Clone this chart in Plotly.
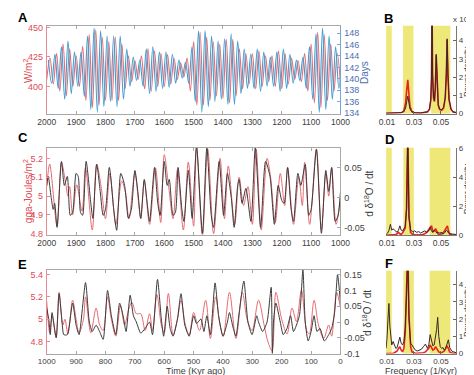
import numpy as np
import plotly.graph_objects as go

# ---------------- Panel A : insolation (W/m2) and day length (Days) -------------
time_a_red = np.linspace(2000, 1000, 91)
insol_a = [406, 424, 402, 428, 396, 436, 392, 432, 400, 426,
           400, 434, 388, 444, 382, 448, 384, 442, 388, 438,
           388, 442, 388, 436, 398, 426, 404, 422, 406, 426,
           398, 432, 396, 430, 400, 428, 400, 427, 402, 424,
           406, 420, 408, 424, 396, 438, 384, 446, 384, 442,
           388, 438, 392, 436, 390, 440, 386, 440, 392, 432,
           398, 428, 402, 428, 398, 430, 400, 426, 404, 426,
           400, 430, 398, 428, 402, 424, 406, 422, 404, 428,
           396, 436, 386, 446, 382, 444, 388, 436, 396, 428,
           402]
time_a_blue = np.linspace(1994.4, 994.4, 91)
days_a = [143.3, 139.2, 144.3, 138.3, 145.6, 136.4, 146.6, 137.4, 144.7, 138.7,
          144.7, 136.9, 147.5, 134.6, 148.9, 134.1, 148.4, 135.1, 147.5, 136.0,
          147.5, 135.1, 147.5, 136.4, 145.2, 138.7, 143.8, 139.7, 143.3, 138.7,
          145.2, 137.4, 145.6, 137.8, 144.7, 138.3, 144.7, 138.5, 144.3, 139.2,
          143.3, 140.1, 142.9, 139.2, 145.6, 136.0, 148.4, 134.1, 148.4, 135.1,
          147.5, 136.0, 146.6, 136.4, 147.0, 135.5, 147.9, 135.5, 146.6, 137.4,
          145.2, 138.3, 144.3, 138.3, 145.2, 137.8, 144.7, 138.7, 143.8, 138.7,
          144.7, 137.8, 145.2, 138.3, 144.3, 139.2, 143.3, 139.7, 143.8, 138.3,
          145.6, 136.4, 147.9, 134.1, 148.9, 134.6, 147.5, 136.4, 145.6, 138.3,
          144.3]

# ---------------- Panel C : 2000-1000 kyr -------------
c_red_t = [2000, 1990, 1965, 1950, 1935, 1928, 1922, 1912, 1898, 1880,
           1868, 1845, 1830, 1815, 1800, 1785, 1765, 1745, 1732, 1720,
           1700, 1680, 1668, 1650, 1630, 1612, 1600, 1585, 1570, 1555,
           1535, 1518, 1500, 1490, 1470, 1452, 1432, 1410, 1395, 1382,
           1360, 1345, 1330, 1315, 1300, 1287, 1270, 1250, 1238, 1222,
           1205, 1190, 1180, 1160, 1142, 1130, 1122, 1105, 1082, 1065,
           1050, 1040, 1030, 1015, 1000]
c_red_v = [5.05, 5.17, 4.84, 5.18, 5.06, 5.0, 5.05, 4.9, 5.06, 4.92,
           5.15, 4.82, 5.17, 5.05, 4.88, 5.12, 4.85, 5.08, 5.02, 4.88,
           5.12, 4.88, 5.08, 4.85, 5.15, 4.86, 5.22, 5.05, 4.88, 5.14,
           4.82, 5.18, 4.84, 5.26, 4.79, 5.25, 4.8, 5.2, 4.88, 5.16,
           4.85, 5.1, 4.95, 5.05, 4.85, 5.25, 4.82, 5.2, 5.1, 4.86,
           5.12, 4.95, 5.15, 4.85, 5.1, 4.95, 5.18, 4.85, 5.25, 4.82,
           5.12, 5.0, 5.15, 4.85, 5.0]
c_blk_t = [2000, 1995, 1985, 1978, 1973, 1965, 1950, 1940, 1930, 1920,
           1912, 1900, 1893, 1885, 1878, 1866, 1850, 1843, 1830, 1818,
           1808, 1800, 1787, 1772, 1762, 1748, 1735, 1722, 1712, 1700,
           1690, 1680, 1668, 1658, 1650, 1633, 1622, 1614, 1600, 1590,
           1583, 1570, 1562, 1553, 1540, 1533, 1518, 1505, 1490, 1470,
           1455, 1440, 1432, 1413, 1398, 1385, 1372, 1362, 1350, 1345,
           1335, 1322, 1305, 1290, 1272, 1255, 1240, 1225, 1212, 1200,
           1192, 1180, 1168, 1160, 1145, 1135, 1120, 1108, 1100, 1082,
           1065, 1050, 1040, 1030, 1018, 1008, 1000]
c_blk_v = [0.02, 0.035, 0.0, -0.02, -0.01, -0.05, 0.06, 0.02, 0.035, -0.03,
           -0.025, 0.04, 0.035, -0.025, -0.03, 0.06, -0.01, -0.035, 0.055, 0.01,
           -0.03, -0.02, 0.05, -0.02, -0.055, 0.04, 0.02, -0.035, -0.02, 0.045,
           0.01, -0.035, 0.03, -0.01, -0.04, 0.05, -0.01, -0.03, 0.06, 0.02,
           0.03, -0.03, -0.025, 0.05, -0.02, -0.04, 0.045, -0.035, 0.085, -0.06,
           0.083, -0.03, -0.05, 0.06, -0.03, 0.04, 0.0, -0.05, 0.02, 0.03,
           -0.01, 0.015, -0.04, 0.083, -0.05, 0.06, 0.035, -0.045, 0.02, -0.005,
           -0.01, 0.05, -0.02, -0.04, 0.04, 0.02, 0.055, -0.03, -0.02, 0.08,
           -0.06, 0.045, 0.01, 0.05, -0.04, -0.03, 0.01]

# ---------------- Panel E : 1000-0 kyr -------------
e_red_t = [1000, 990, 982, 968, 958, 945, 938, 928, 912, 900,
           890, 875, 868, 850, 832, 820, 808, 793, 780, 765,
           749, 735, 720, 710, 695, 680, 665, 650, 640, 625,
           610, 600, 586, 570, 555, 543, 528, 515, 500, 480,
           459, 443, 425, 410, 399, 378, 356, 334, 318, 301,
           279, 260, 247, 233, 220, 200, 182, 165, 150, 133,
           115, 106, 90, 75, 57, 40, 30, 13, 0]
e_red_v = [5.16, 4.88, 5.03, 4.84, 5.24, 4.95, 5.0, 4.87, 5.17, 5.0,
           4.88, 5.0, 5.2, 4.88, 5.1, 4.95, 4.9, 5.2, 5.0, 4.85,
           5.12, 4.95, 5.1, 5.15, 5.05, 5.05, 4.9, 5.05, 4.9, 5.22,
           4.95, 4.88, 5.23, 4.86, 5.0, 5.17, 4.95, 4.86, 5.06, 4.9,
           5.17, 4.83, 5.2, 4.95, 4.85, 5.24, 4.83, 5.24, 5.0, 4.9,
           5.17, 4.95, 4.8, 4.72, 5.24, 5.0, 4.87, 5.1, 4.98, 5.26,
           4.9, 4.87, 5.17, 4.95, 4.83, 4.95, 4.85, 5.24, 5.1]
e_blk_t = [1000, 992, 988, 982, 968, 958, 948, 942, 930, 912,
           900, 890, 868, 855, 845, 832, 820, 808, 793, 780,
           765, 752, 740, 730, 716, 705, 695, 680, 665, 650,
           640, 623, 610, 602, 590, 580, 570, 555, 543, 530,
           515, 500, 490, 475, 465, 455, 443, 427, 415, 400,
           385, 378, 365, 356, 345, 329, 315, 301, 285, 279,
           265, 250, 236, 232, 228, 220, 205, 195, 182, 170,
           160, 140, 128, 120, 110, 100, 90, 80, 70, 55,
           40, 30, 20, 10, 0]
e_blk_v = [0.045, 0.0, -0.04, 0.03, -0.05, 0.09, 0.0, -0.04, -0.04, 0.06,
           -0.01, -0.04, 0.125, 0.0, -0.03, -0.01, -0.03, -0.055, 0.1, 0.02,
           -0.04, 0.06, 0.02, -0.03, 0.085, 0.02, 0.0, -0.035, -0.02, 0.0,
           -0.04, 0.135, 0.01, -0.045, 0.05, -0.02, -0.045, 0.01, 0.09, -0.01,
           -0.045, 0.02, -0.005, 0.01, -0.03, 0.02, -0.04, 0.124, 0.02, -0.045,
           0.0, 0.03, -0.02, -0.045, 0.03, 0.13, 0.0, -0.04, 0.02, 0.0,
           -0.03, 0.0, 0.11, -0.1, 0.0, 0.06, 0.0, -0.04, -0.02, 0.02,
           -0.03, 0.02, 0.165, 0.0, -0.06, -0.03, 0.02, -0.03, -0.02, -0.06,
           -0.04, -0.02, 0.03, 0.15, 0.06]

# ---------------- Spectra -------------
freq_b = [0.0093, 0.012, 0.015, 0.018, 0.0205, 0.0225, 0.0238, 0.0246, 0.0254, 0.0262,
          0.027, 0.0285, 0.031, 0.035, 0.038, 0.040, 0.0415, 0.0425, 0.043, 0.0434,
          0.0438, 0.0445, 0.0452, 0.0458, 0.0465, 0.0472, 0.048, 0.049, 0.0505, 0.052,
          0.0532, 0.054, 0.0546, 0.0552, 0.056, 0.0575, 0.059, 0.0613]
pow_b_dark = [0.02, 0.02, 0.02, 0.03, 0.05, 0.1, 0.3, 0.65, 0.95, 0.6,
              0.25, 0.08, 0.04, 0.03, 0.05, 0.1, 0.25, 0.8, 2.0, 6.0,
              2.2, 0.9, 0.7, 1.4, 3.25, 1.4, 0.5, 0.25, 0.2, 0.35,
              0.9, 2.2, 4.1, 2.2, 0.8, 0.25, 0.1, 0.05]
pow_b_red = [0.0, 0.0, 0.01, 0.02, 0.04, 0.15, 0.6, 1.3, 1.85, 1.1,
             0.4, 0.1, 0.03, 0.02, 0.04, 0.08, 0.22, 0.75, 1.9, 6.0,
             2.1, 0.85, 0.65, 1.3, 3.2, 1.35, 0.45, 0.22, 0.18, 0.3,
             0.85, 2.1, 4.05, 2.1, 0.75, 0.22, 0.08, 0.04]

freq_d = [0.0093, 0.0105, 0.0115, 0.0125, 0.0135, 0.0145, 0.0155, 0.0165, 0.0175, 0.0185,
          0.0195, 0.0205, 0.0215, 0.0225, 0.0235, 0.0245, 0.0254, 0.0263, 0.0275, 0.029,
          0.0305, 0.032, 0.0335, 0.035, 0.0365, 0.038, 0.0395, 0.041, 0.042, 0.043,
          0.044, 0.045, 0.046, 0.047, 0.048, 0.049, 0.050, 0.051, 0.052, 0.053,
          0.054, 0.0548, 0.0556, 0.0565, 0.058, 0.0595, 0.0613]
pow_d_dark = [0.05, 0.15, 0.35, 0.75, 0.35, 0.45, 0.35, 0.25, 0.2, 0.35,
              0.65, 0.35, 0.3, 0.45, 0.6, 1.8, 7.0, 1.2, 0.35, 0.25,
              0.3, 0.2, 0.25, 0.15, 0.2, 0.3, 0.2, 0.3, 0.55, 0.3,
              0.2, 0.35, 0.25, 0.15, 0.2, 0.15, 0.2, 0.15, 0.1, 0.2,
              0.35, 0.3, 0.15, 0.1, 0.1, 0.05, 0.05]
pow_d_red = [0.0, 0.0, 0.0, 0.0, 0.0, 0.0, 0.02, 0.05, 0.1, 0.2,
             0.1, 0.05, 0.15, 0.3, 0.5, 1.9, 7.0, 1.3, 0.2, 0.05,
             0.02, 0.02, 0.02, 0.02, 0.05, 0.1, 0.2, 0.4, 0.5, 0.65,
             0.25, 0.3, 0.45, 0.2, 0.08, 0.05, 0.05, 0.1, 0.2, 0.4,
             0.55, 0.65, 0.3, 0.08, 0.02, 0.01, 0.0]

freq_f = [0.0093, 0.0100, 0.0107, 0.0114, 0.0121, 0.0128, 0.0135, 0.0145, 0.0155, 0.0165,
          0.0175, 0.0185, 0.0195, 0.0205, 0.0215, 0.0225, 0.0235, 0.0245, 0.0254, 0.0263,
          0.0275, 0.0285, 0.0295, 0.031, 0.0325, 0.034, 0.0355, 0.037, 0.0385, 0.040,
          0.041, 0.042, 0.043, 0.044, 0.045, 0.046, 0.0468, 0.0476, 0.0484, 0.0495,
          0.0505, 0.0515, 0.0525, 0.0535, 0.0545, 0.0555, 0.0565, 0.058, 0.0595, 0.0613]
pow_f_dark = [0.3, 0.9, 2.0, 2.9, 1.6, 0.7, 0.5, 0.7, 0.45, 0.3,
              0.35, 0.6, 0.95, 0.6, 0.5, 0.7, 1.5, 3.5, 6.0, 2.0,
              0.6, 0.5, 0.35, 0.2, 0.15, 0.2, 0.25, 0.4, 0.55, 0.3,
              0.5, 1.1, 0.8, 0.45, 0.5, 0.9, 1.4, 2.1, 1.0, 0.4,
              0.3, 0.35, 0.2, 0.3, 0.6, 0.8, 0.35, 0.15, 0.1, 0.05]
pow_f_red = [0.0, 0.0, 0.0, 0.0, 0.0, 0.0, 0.0, 0.02, 0.05, 0.1,
             0.15, 0.3, 0.4, 0.2, 0.1, 0.3, 1.2, 3.8, 6.0, 2.2,
             0.4, 0.1, 0.05, 0.02, 0.02, 0.02, 0.03, 0.05, 0.1, 0.2,
             0.3, 0.5, 0.35, 0.2, 0.25, 0.4, 0.3, 0.2, 0.1, 0.05,
             0.05, 0.1, 0.15, 0.3, 0.45, 0.3, 0.1, 0.03, 0.01, 0.0]

bands_b = [(0.0093, 0.0135), (0.0219, 0.0296), (0.0427, 0.0570)]
bands_df = [(0.0093, 0.0135), (0.0221, 0.0299), (0.0416, 0.0570)]

# tick labels
time_ticks_1 = [2000, 1900, 1800, 1700, 1600, 1500, 1400, 1300, 1200, 1100, 1000]
time_ticks_2 = [1000, 900, 800, 700, 600, 500, 400, 300, 200, 100, 0]
a_left_ticks = [400, 425, 450]
a_right_ticks = [134, 136, 138, 140, 142, 144, 146, 148]
c_left_ticks = [4.8, 4.9, 5.0, 5.1, 5.2]
c_left_text = ["4.8", "4.9", "5", "5.1", "5.2"]
c_right_ticks = [-0.05, 0, 0.05]
c_right_text = ["-0.05", "0", "0.05"]
e_left_ticks = [4.8, 5.0, 5.2, 5.4]
e_left_text = ["4.8", "5", "5.2", "5.4"]
e_right_ticks = [-0.1, -0.05, 0, 0.05, 0.1, 0.15]
e_right_text = ["-0.1", "-0.05", "0", "0.05", "0.1", "0.15"]
freq_ticks = [0.01, 0.03, 0.05]
freq_text = ["0.01", "0.03", "0.05"]

# ---------------- styling -------------
W, H = 474, 375
FONT = "Liberation Sans, Arial, Helvetica, sans-serif"
RED_TS = "#e46b73"
BLUE_TS = "#3b9dd2"
BLACK_TS = "#3a3a3a"
RED_LBL = "#de4a55"
BLUE_LBL = "#4c6fb3"
SPEC_RED = "#e8221c"
SPEC_DARK = "#3a2626"
YELLOW = "#eee878"
BOX = "#a8a8a8"
TXT = "#404040"


def px(x):
    return x / W


def py(y):
    return 1 - y / H


ts_dom = [px(31), px(337)]
sp_dom = [px(384.5), px(457.5)]
A_dom = [py(104), py(14.7)]
C_dom = [py(228), py(139)]
E_dom = [py(350), py(264)]
B_dom = [py(104), py(14)]
D_dom = [py(228.7), py(139)]
F_dom = [py(350), py(265)]

fig = go.Figure()

# panel A
fig.add_trace(go.Scatter(x=time_a_red, y=insol_a, xaxis="x", yaxis="y", mode="lines",
                         line=dict(color=RED_TS, width=1.1, shape="spline", smoothing=1.0)))
fig.add_trace(go.Scatter(x=time_a_blue, y=days_a, xaxis="x", yaxis="y2", mode="lines",
                         line=dict(color=BLUE_TS, width=1.1, shape="spline", smoothing=1.0)))
# panel C
fig.add_trace(go.Scatter(x=c_red_t, y=c_red_v, xaxis="x2", yaxis="y3", mode="lines",
                         line=dict(color=RED_TS, width=1, shape="spline", smoothing=0.9)))
fig.add_trace(go.Scatter(x=c_blk_t, y=c_blk_v, xaxis="x2", yaxis="y4", mode="lines",
                         line=dict(color=BLACK_TS, width=1, shape="spline", smoothing=0.7)))
# panel E
fig.add_trace(go.Scatter(x=e_red_t, y=e_red_v, xaxis="x3", yaxis="y5", mode="lines",
                         line=dict(color=RED_TS, width=1, shape="spline", smoothing=0.9)))
fig.add_trace(go.Scatter(x=e_blk_t, y=e_blk_v, xaxis="x3", yaxis="y6", mode="lines",
                         line=dict(color=BLACK_TS, width=1, shape="spline", smoothing=0.6)))
# spectra
for fx, pr, pd_, xa, ya in [(freq_b, pow_b_red, pow_b_dark, "x4", "y7"),
                            (freq_d, pow_d_red, pow_d_dark, "x5", "y8"),
                            (freq_f, pow_f_red, pow_f_dark, "x6", "y9")]:
    fig.add_trace(go.Scatter(x=fx, y=pr, xaxis=xa, yaxis=ya, mode="lines",
                             line=dict(color=SPEC_RED, width=1.6)))
    fig.add_trace(go.Scatter(x=fx, y=pd_, xaxis=xa, yaxis=ya, mode="lines",
                             line=dict(color=SPEC_DARK, width=1)))

shapes = []
for bands, xa, ya in [(bands_b, "x4", "y7"), (bands_df, "x5", "y8"), (bands_df, "x6", "y9")]:
    for lo, hi in bands:
        shapes.append(dict(type="rect", xref=xa, yref=ya + " domain", x0=lo, x1=hi, y0=0, y1=1,
                           fillcolor=YELLOW, line=dict(width=0), layer="below"))

tickfont = dict(family=FONT, size=8.5, color=TXT)
tickfont_low = dict(family=FONT, size=8, color=TXT)


def time_x(dom, anchor, ticks, rng, tf=tickfont):
    return dict(domain=dom, anchor=anchor, range=rng, tickvals=ticks,
                ticktext=[str(t) for t in ticks], ticks="inside", ticklen=3,
                tickcolor=BOX, showline=True, linecolor=BOX, linewidth=1, mirror="ticks",
                showgrid=False, zeroline=False, tickfont=tf, ticklabelstandoff=0)


def yax(dom, anchor, rng, tv, tt, color, linecolor, side="left", overlay=None):
    d = dict(anchor=anchor, range=rng, tickvals=tv, ticktext=tt, ticks="inside",
             ticklen=3, tickcolor=linecolor, showline=True, linecolor=linecolor, linewidth=1,
             showgrid=False, zeroline=False, side=side, ticklabelstandoff=1,
             tickfont=dict(family=FONT, size=9, color=color))
    if overlay:
        d["overlaying"] = overlay
    else:
        d["domain"] = dom
    return d


def spec_x(anchor, tf=tickfont):
    return dict(domain=sp_dom, anchor=anchor, range=[0.0093, 0.0613], tickvals=freq_ticks,
                ticktext=freq_text, ticks="inside", ticklen=3, tickcolor="#666",
                showline=True, linecolor="#777", linewidth=1, showgrid=False, zeroline=False,
                tickfont=tf, ticklabelstandoff=0)


def spec_y(dom, anchor, rng, tv):
    return dict(domain=dom, anchor=anchor, range=rng, tickvals=tv, ticktext=[str(t) for t in tv],
                side="right", ticks="inside", ticklen=3, tickcolor="#666", showline=True,
                linecolor="#777", linewidth=1, showgrid=False, zeroline=False,
                tickfont=dict(family=FONT, size=8, color=TXT), ticklabelstandoff=0)


ann = []


def label(text, x, y, size=10, color=TXT, angle=0, bold=False, xanchor="center"):
    if bold:
        text = "<b>" + text + "</b>"
    ann.append(dict(text=text, x=px(x), y=py(y), xref="paper", yref="paper", showarrow=False,
                    textangle=angle, xanchor=xanchor, yanchor="middle", borderpad=0,
                    font=dict(family=FONT, size=size, color=color)))


label("A", 6, 6, size=13, color="#000", bold=True)
label("B", 387, 7, size=13, color="#000", bold=True)
label("C", 6, 129, size=13, color="#000", bold=True)
label("D", 388, 131, size=13, color="#000", bold=True)
label("E", 6, 259, size=13, color="#000", bold=True)
label("F", 388, 258, size=13, color="#000", bold=True)
label("W/m<sup>2</sup>", 11, 60, color=RED_LBL, angle=-90)
label("Days", 362, 62, color=BLUE_LBL, angle=-90)
label("gga-Joules/m<sup>2</sup>", 11, 184, color=RED_LBL, angle=-90)
label("d δ<sup>18</sup>O / dt", 366, 186, color=TXT, angle=-90)
label("d δ<sup>18</sup>O / dt", 364, 308, color=TXT, angle=-90)
label("Power density", 474, 62, size=8, color="#303030", angle=-90, xanchor="right")
label("Power density", 474, 182, size=8, color="#303030", angle=-90, xanchor="right")
label("Power density", 474, 308, size=8, color="#303030", angle=-90, xanchor="right")
label("x 10<sup>4</sup>", 474, 7, size=8, color=TXT, xanchor="right")
ann.append(dict(text="Time (Kyr ago)", x=px(186), y=0, xref="paper", yref="paper",
                showarrow=False, xanchor="center", yanchor="bottom", borderpad=0, yshift=1,
                font=dict(family=FONT, size=9, color=TXT)))
ann.append(dict(text="Frequency (1/Kyr)", x=px(421), y=0, xref="paper", yref="paper",
                showarrow=False, xanchor="center", yanchor="bottom", borderpad=0, yshift=1,
                font=dict(family=FONT, size=9, color=TXT)))

fig.update_layout(
    width=W, height=H, margin=dict(l=0, r=0, t=0, b=0),
    paper_bgcolor="white", plot_bgcolor="white", showlegend=False,
    font=dict(family=FONT, size=9, color=TXT),
    xaxis=time_x(ts_dom, "y", time_ticks_1, [2000, 1000]),
    yaxis=yax(A_dom, "x", [377, 451], a_left_ticks, [str(t) for t in a_left_ticks], RED_LBL, "#e88a90"),
    yaxis2=yax(None, "x", [133.9, 149.2], a_right_ticks, [str(t) for t in a_right_ticks], BLUE_LBL,
               "#7aa6d6", side="right", overlay="y"),
    xaxis2=time_x(ts_dom, "y3", time_ticks_1, [2000, 1000]),
    yaxis3=yax(C_dom, "x2", [4.796, 5.257], c_left_ticks, c_left_text, RED_LBL, "#e88a90"),
    yaxis4=yax(None, "x2", [-0.062, 0.083], c_right_ticks, c_right_text, TXT, BOX,
               side="right", overlay="y3"),
    xaxis3=time_x(ts_dom, "y5", time_ticks_2, [1000, 0], tickfont_low),
    yaxis5=yax(E_dom, "x3", [4.695, 5.442], e_left_ticks, e_left_text, RED_LBL, "#e88a90"),
    yaxis6=yax(None, "x3", [-0.1, 0.166], e_right_ticks, e_right_text, TXT, BOX,
               side="right", overlay="y5"),
    xaxis4=spec_x("y7"),
    yaxis7=spec_y(B_dom, "x4", [0, 4.82], [0, 1, 2, 3, 4]),
    xaxis5=spec_x("y8"),
    yaxis8=spec_y(D_dom, "x5", [0, 6.05], [0, 2, 4, 6]),
    xaxis6=spec_x("y9", tickfont_low),
    yaxis9=spec_y(F_dom, "x6", [0, 4.8], [0, 1, 2, 3, 4]),
    shapes=shapes,
    annotations=ann,
)

fig.write_html("out.html")
